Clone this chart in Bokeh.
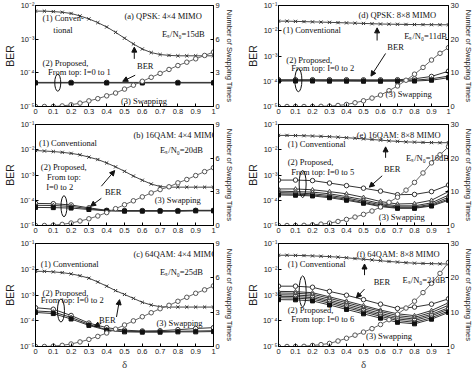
from bokeh.plotting import figure
from bokeh.models import Range1d, LinearAxis, LinearScale, FixedTicker, Label, Arrow, NormalHead
from bokeh.layouts import column, row
from bokeh.embed import file_html
from bokeh.resources import INLINE

# ---------------- data ----------------
delta = [0.0, 0.05, 0.1, 0.15, 0.2, 0.25, 0.3, 0.35, 0.4, 0.45, 0.5,
         0.55, 0.6, 0.65, 0.7, 0.75, 0.8, 0.85, 0.9, 0.95, 1.0]
delta_p = [0.0, 0.1, 0.2, 0.3, 0.4, 0.5, 0.6, 0.7, 0.8, 0.9, 1.0]
delta_pa = [0.0, 0.2, 0.4, 0.6, 0.8, 1.0]

x_ticks = [0.0, 0.1, 0.2, 0.3, 0.4, 0.5, 0.6, 0.7, 0.8, 0.9, 1.0]
x_tick_labels = ["0", "0.1", "0.2", "0.3", "0.4", "0.5", "0.6", "0.7", "0.8", "0.9", "1"]
ber_ticks = [1e-5, 1e-4, 1e-3, 1e-2, 1e-1]
ber_tick_labels = ["10⁻⁵", "10⁻⁴", "10⁻³", "10⁻²", "10⁻¹"]
swap_ticks_4 = [0, 3, 6, 9]
swap_ticks_8 = [0, 10, 20, 30]

# (a) QPSK 4x4
conv_a = [6.8e-3, 6.8e-3, 6.6e-3, 6.3e-3, 5.8e-3, 4.9e-3, 4.0e-3, 3.1e-3, 2.3e-3, 1.6e-3, 1.07e-3,
          7.2e-4, 5.1e-4, 4.0e-4, 3.5e-4, 3.3e-4, 3.2e-4, 3.2e-4, 3.2e-4, 3.2e-4, 3.2e-4]
prop_a = [[5.2e-5, 5.2e-5, 5.2e-5, 5.2e-5, 5.2e-5, 5.2e-5],
          [5.0e-5, 5.0e-5, 5.0e-5, 5.0e-5, 5.0e-5, 5.0e-5]]
swap_a = [0, 0, 0, 0.05, 0.15, 0.3, 0.5, 0.7, 0.95, 1.2, 1.55, 1.9, 2.25, 2.6, 2.95,
          3.3, 3.65, 3.95, 4.25, 4.55, 4.85]

# (b) 16QAM 4x4
conv_b = [9.3e-3, 8.9e-3, 8.5e-3, 7.9e-3, 7.2e-3, 6.3e-3, 5.1e-3, 4.1e-3, 3.0e-3, 2.1e-3, 1.4e-3,
          9.1e-4, 6.2e-4, 4.4e-4, 3.5e-4, 3.3e-4, 3.3e-4, 3.3e-4, 3.3e-4, 3.3e-4, 3.3e-4]
prop_b = [[7.5e-5, 7.3e-5, 6.5e-5, 5.0e-5, 4.0e-5, 3.9e-5, 3.9e-5, 3.9e-5, 3.9e-5, 4.0e-5, 4.0e-5],
          [6.3e-5, 6.2e-5, 5.7e-5, 4.6e-5, 3.9e-5, 3.8e-5, 3.8e-5, 3.8e-5, 3.8e-5, 3.9e-5, 3.9e-5],
          [5.2e-5, 5.1e-5, 4.9e-5, 4.3e-5, 3.8e-5, 3.7e-5, 3.7e-5, 3.7e-5, 3.7e-5, 3.8e-5, 3.8e-5]]
swap_b = [0, 0, 0.03, 0.1, 0.22, 0.4, 0.6, 0.85, 1.15, 1.5, 1.85, 2.2, 2.55, 2.9, 3.2,
          3.45, 3.8, 4.1, 4.45, 4.8, 5.15]

# (c) 64QAM 4x4
conv_c = [8.3e-3, 8.3e-3, 7.9e-3, 7.4e-3, 6.6e-3, 5.6e-3, 4.5e-3, 3.2e-3, 2.2e-3, 1.48e-3, 1.05e-3,
          7.4e-4, 5.2e-4, 4.1e-4, 3.5e-4, 3.4e-4, 3.4e-4, 3.4e-4, 3.4e-4, 3.4e-4, 3.4e-4]
prop_c = [[3.2e-4, 2.8e-4, 1.6e-4, 8.1e-5, 5.4e-5, 4.3e-5, 4.0e-5, 4.1e-5, 4.5e-5, 5.0e-5, 5.4e-5],
          [2.4e-4, 2.2e-4, 1.35e-4, 7.2e-5, 4.5e-5, 3.9e-5, 3.8e-5, 3.8e-5, 3.9e-5, 4.0e-5, 4.1e-5],
          [2.1e-4, 1.9e-4, 1.17e-4, 6.6e-5, 4.3e-5, 3.7e-5, 3.6e-5, 3.6e-5, 3.7e-5, 3.7e-5, 3.8e-5]]
swap_c = [0, 0, 0.03, 0.1, 0.22, 0.4, 0.62, 0.88, 1.18, 1.52, 1.88, 2.24, 2.6, 2.95, 3.3,
          3.6, 3.95, 4.3, 4.65, 4.95, 5.3]

# (d) QPSK 8x8
conv_d = [2.4e-2, 2.4e-2, 2.35e-2, 2.3e-2, 2.25e-2, 2.2e-2, 2.15e-2, 2.1e-2, 2.05e-2, 2.0e-2, 1.95e-2,
          1.9e-2, 1.85e-2, 1.82e-2, 1.8e-2, 1.78e-2, 1.76e-2, 1.75e-2, 1.74e-2, 1.73e-2, 1.72e-2]
prop_d = [[1.15e-4, 1.15e-4, 1.15e-4, 1.15e-4, 1.15e-4, 1.14e-4, 1.14e-4, 1.15e-4, 1.25e-4, 1.55e-4, 2.5e-4],
          [1.08e-4, 1.08e-4, 1.08e-4, 1.07e-4, 1.07e-4, 1.07e-4, 1.07e-4, 1.07e-4, 1.1e-4, 1.25e-4, 1.6e-4],
          [1.02e-4, 1.02e-4, 1.02e-4, 1.01e-4, 1.01e-4, 1.0e-4, 1.0e-4, 1.0e-4, 1.02e-4, 1.1e-4, 1.38e-4]]
swap_d = [0, 0, 0, 0, 0, 0.05, 0.1, 0.3, 0.6, 1.1, 1.7, 2.5, 3.4, 4.7, 6.1,
          7.8, 9.6, 11.6, 13.8, 15.8, 17.5]

# (e) 16QAM 8x8
conv_e = [3.7e-2, 3.7e-2, 3.65e-2, 3.6e-2, 3.5e-2, 3.4e-2, 3.3e-2, 3.15e-2, 3.0e-2, 2.85e-2, 2.7e-2,
          2.55e-2, 2.4e-2, 2.25e-2, 2.15e-2, 2.05e-2, 2.0e-2, 1.95e-2, 1.92e-2, 1.9e-2, 1.9e-2]
prop_e = [[6.3e-4, 6.3e-4, 6.0e-4, 4.8e-4, 3.8e-4, 3.0e-4, 2.3e-4, 1.66e-4, 1.7e-4, 2.2e-4, 4.0e-4],
          [2.8e-4, 2.8e-4, 2.6e-4, 2.2e-4, 1.8e-4, 1.3e-4, 8.9e-5, 7.1e-5, 7.4e-5, 1.0e-4, 2.2e-4],
          [2.3e-4, 2.2e-4, 2.1e-4, 1.8e-4, 1.4e-4, 1.05e-4, 7.4e-5, 6.0e-5, 6.0e-5, 7.9e-5, 1.6e-4],
          [2.0e-4, 1.95e-4, 1.8e-4, 1.55e-4, 1.23e-4, 9.1e-5, 6.6e-5, 5.4e-5, 5.4e-5, 6.9e-5, 1.32e-4],
          [1.78e-4, 1.74e-4, 1.62e-4, 1.38e-4, 1.1e-4, 8.1e-5, 6.0e-5, 5.0e-5, 5.0e-5, 6.3e-5, 1.12e-4],
          [1.62e-4, 1.58e-4, 1.48e-4, 1.26e-4, 1.0e-4, 7.6e-5, 5.6e-5, 4.8e-5, 4.8e-5, 5.9e-5, 1.0e-4]]
swap_e = [0, 0, 0, 0.05, 0.2, 0.4, 0.7, 1.2, 1.8, 2.5, 3.3, 4.3, 5.5, 6.9, 8.4,
          10.5, 12.8, 15.6, 18.6, 21.0, 23.4]

# (f) 64QAM 8x8
conv_f = [3.5e-2, 3.5e-2, 3.45e-2, 3.4e-2, 3.3e-2, 3.2e-2, 3.1e-2, 2.95e-2, 2.8e-2, 2.6e-2, 2.45e-2,
          2.3e-2, 2.15e-2, 2.0e-2, 1.9e-2, 1.8e-2, 1.72e-2, 1.68e-2, 1.65e-2, 1.62e-2, 1.6e-2]
prop_f = [[2.2e-3, 2.2e-3, 2.0e-3, 1.38e-3, 9.8e-4, 6.6e-4, 4.4e-4, 3.0e-4, 3.4e-4, 4.4e-4, 7.1e-4],
          [1.38e-3, 1.35e-3, 1.23e-3, 8.5e-4, 5.8e-4, 3.9e-4, 2.6e-4, 1.86e-4, 1.58e-4, 2.5e-4, 5.0e-4],
          [1.2e-3, 1.17e-3, 1.07e-3, 7.4e-4, 5.0e-4, 3.4e-4, 2.3e-4, 1.58e-4, 1.35e-4, 2.1e-4, 4.0e-4],
          [1.02e-3, 1.0e-3, 9.1e-4, 6.3e-4, 4.3e-4, 2.9e-4, 1.95e-4, 1.35e-4, 1.17e-4, 1.78e-4, 3.2e-4],
          [8.9e-4, 8.7e-4, 7.9e-4, 5.5e-4, 3.7e-4, 2.5e-4, 1.7e-4, 1.17e-4, 1.02e-4, 1.55e-4, 2.8e-4],
          [7.8e-4, 7.6e-4, 6.9e-4, 4.8e-4, 3.2e-4, 2.2e-4, 1.48e-4, 1.02e-4, 8.7e-5, 1.32e-4, 2.4e-4],
          [6.6e-4, 6.5e-4, 5.9e-4, 4.1e-4, 2.75e-4, 1.86e-4, 1.26e-4, 8.7e-5, 7.6e-5, 1.15e-4, 2.1e-4]]
swap_f = [0, 0, 0, 0.05, 0.3, 0.55, 0.9, 1.6, 2.4, 3.3, 4.2, 5.2, 6.4, 7.8, 9.4,
          11.2, 13.2, 15.7, 18.4, 21.3, 24.5]

SERIF = "Liberation Serif"
SANS = "Liberation Sans"
INK = "#222222"
MID_MARKERS = ["triangle", "diamond", "inverted_triangle", "square", "circle"]


def panel(conv, props, dprop, swap, ber_hi, sw_hi, sw_ticks, fw, fh, mb_top,
          mb_right, xlabel, texts, arrows, ellipse):
    p = figure(frame_width=fw, frame_height=fh, y_axis_type="log",
               x_range=Range1d(0, 1), y_range=Range1d(1e-5, ber_hi),
               output_backend="svg", toolbar_location=None,
               min_border_left=0, min_border_right=mb_right,
               min_border_top=mb_top, min_border_bottom=0,
               background_fill_color="white", border_fill_color="white")
    p.outline_line_color = "black"
    p.outline_line_width = 1
    p.xgrid.visible = False
    p.ygrid.visible = False
    p.extra_y_ranges = {"sw": Range1d(0, sw_hi)}
    p.extra_y_scales = {"sw": LinearScale()}

    yticks = [t for t in ber_ticks if t <= ber_hi * 1.001]
    p.yaxis.ticker = FixedTicker(ticks=yticks, minor_ticks=[])
    p.yaxis.major_label_overrides = {t: l for t, l in zip(ber_ticks, ber_tick_labels) if t in yticks}
    p.yaxis.axis_label = "BER"
    p.xaxis.ticker = FixedTicker(ticks=x_ticks, minor_ticks=[])
    p.xaxis.major_label_overrides = dict(zip(x_ticks, x_tick_labels))
    if xlabel:
        p.xaxis.axis_label = xlabel
        p.xaxis.axis_label_text_font = SERIF
        p.xaxis.axis_label_text_font_style = "normal"
        p.xaxis.axis_label_text_font_size = "11px"
        p.xaxis.axis_label_standoff = 1

    ax = LinearAxis(y_range_name="sw", ticker=FixedTicker(ticks=sw_ticks, minor_ticks=[]),
                    axis_label="Number of Swapping Times")
    p.add_layout(ax, "right")

    for a in [p.xaxis[0], p.yaxis[0], ax]:
        a.axis_line_color = "black"
        a.major_tick_in = 3
        a.major_tick_out = 0
        a.minor_tick_in = 0
        a.minor_tick_out = 0
        a.major_tick_line_color = "black"
        a.major_label_text_font = SANS
        a.major_label_text_font_size = "7.5px"
        a.major_label_text_color = INK
        a.major_label_standoff = 2
    p.yaxis[0].major_label_standoff = 1
    for a in [p.yaxis[0], ax]:
        a.axis_label_text_font = SANS
        a.axis_label_text_font_style = "normal"
        a.axis_label_text_color = INK
        a.axis_label_standoff = 2
    p.yaxis[0].axis_label_text_font_size = "10.5px"
    p.yaxis[0].axis_label_standoff = 1
    ax.axis_label_text_font_size = "7.5px"

    # (1) conventional
    p.line(delta, conv, line_color="#444444", line_width=1)
    p.scatter(delta, conv, marker="x", size=4.5, line_color="#333333", line_width=1)
    # (2) proposed
    n = len(props)
    for i, ys in enumerate(props):
        p.line(dprop, ys, line_color="#333333", line_width=1)
        if i == 0:
            p.scatter(dprop, ys, marker="circle", size=4.5, line_color="#333333",
                      fill_color="white", line_width=1)
        elif i == n - 1:
            p.scatter(dprop, ys, marker="square", size=4, line_color="#111111",
                      fill_color="#111111")
        else:
            p.scatter(dprop, ys, marker=MID_MARKERS[(i - 1) % len(MID_MARKERS)], size=4,
                      line_color="#444444", fill_color="white", line_width=1)
    # (3) swapping
    p.line(delta, swap, line_color="#666666", line_width=1, y_range_name="sw")
    p.scatter(delta, swap, marker="circle", size=4.5, line_color="#555555",
              fill_color="white", line_width=1, y_range_name="sw")

    for (tx, ty, t) in texts:
        p.add_layout(Label(x=tx, y=ty, text=t, text_font=SERIF, text_font_size="8.5px",
                           text_color="#111111", text_baseline="middle", text_align="left"))
    for (x0, y0, x1, y1) in arrows:
        p.add_layout(Arrow(x_start=x0, y_start=y0, x_end=x1, y_end=y1, line_width=1,
                           line_color="#111111",
                           end=NormalHead(size=5, fill_color="#111111", line_color="#111111")))
    ex, ey, ew, eh = ellipse
    p.ellipse(x=[ex], y=[ey], width=[ew], height=[eh], width_units="screen",
              height_units="screen", fill_alpha=0, line_color="#111111", line_width=1)
    return p


FW1, FW2 = 178, 170
FH1, FH2, FH3 = 101, 101, 103
TOP1, TOP2 = 5, 8
RB1 = 30

fa = panel(conv_a, prop_a, delta_pa, swap_a, 1e-2, 9, swap_ticks_4, FW1, FH1, TOP1, RB1, None,
           [(0.04, 4.2e-3, "(1) Conven-"), (0.10, 1.9e-3, "tional"),
            (0.50, 4.8e-3, "(a) QPSK: 4×4 MIMO"), (0.71, 1.45e-3, "Eₛ/N₀=15dB"),
            (0.04, 2.0e-4, "(2) Proposed,"), (0.07, 1.05e-4, "From top: I=0 to 1"),
            (0.57, 1.6e-4, "BER"), (0.48, 1.5e-5, "(3) Swapping")],
           [(0.555, 2.6e-4, 0.555, 5.8e-4), (0.56, 8.5e-5, 0.49, 5.6e-5)],
           (0.125, 5.1e-5, 6, 17))

fb = panel(conv_b, prop_b, delta_p, swap_b, 1e-1, 9, swap_ticks_4, FW1, FH2, TOP2, RB1, None,
           [(0.02, 1.85e-2, "(1) Conventional"), (0.55, 3.8e-2, "(b) 16QAM: 4×4 MIMO"),
            (0.70, 1.0e-2, "Eₛ/N₀=20dB"), (0.03, 2.0e-3, "(2) Proposed,"),
            (0.065, 8.1e-4, "From top:"), (0.06, 3.4e-4, "I=0 to 2"),
            (0.39, 2.2e-4, "BER"), (0.67, 1.0e-4, "(3) Swapping")],
           [(0.37, 3.6e-4, 0.445, 1.5e-3), (0.37, 1.2e-4, 0.31, 5.8e-5)],
           (0.16, 5.8e-5, 6, 21))

fc = panel(conv_c, prop_c, delta_p, swap_c, 1e-1, 9, swap_ticks_4, FW1, FH3, TOP2, RB1, "δ",
           [(0.03, 1.6e-2, "(1) Conventional"), (0.55, 3.8e-2, "(c) 64QAM: 4×4 MIMO"),
            (0.70, 7.9e-3, "Eₛ/N₀=25dB"), (0.04, 1.2e-3, "(2) Proposed,"),
            (0.03, 6.2e-4, "From top: I=0 to 2"), (0.357, 1.1e-4, "BER"),
            (0.68, 8.0e-5, "(3) Swapping")],
           [(0.455, 1.4e-4, 0.472, 6.6e-4), (0.37, 8.0e-5, 0.33, 6.0e-5)],
           (0.143, 2.5e-4, 7, 23))

fd = panel(conv_d, prop_d, delta_p, swap_d, 1e-1, 30, swap_ticks_8, FW2, FH1, TOP1, 0, None,
           [(0.027, 1.05e-2, "(1) Conventional"), (0.47, 4.4e-2, "(d) QPSK: 8×8 MIMO"),
            (0.74, 6.3e-3, "Eₛ/N₀=11dB"), (0.64, 2.2e-3, "BER"),
            (0.046, 6.9e-4, "(2) Proposed,"), (0.075, 3.3e-4, "From top: I=0 to 2"),
            (0.63, 3.1e-5, "(3) Swapping")],
           [(0.58, 4.1e-3, 0.58, 1.3e-2), (0.63, 1.26e-3, 0.544, 1.6e-4)],
           (0.117, 1.1e-4, 7, 23))

fe = panel(conv_e, prop_e, delta_p, swap_e, 1e-1, 30, swap_ticks_8, FW2, FH2, TOP2, 0, None,
           [(0.054, 1.7e-2, "(1) Conventional"), (0.46, 3.8e-2, "(e) 16QAM: 8×8 MIMO"),
            (0.75, 4.8e-3, "Eₛ/N₀=16dB"), (0.054, 3.2e-3, "(2) Proposed,"),
            (0.075, 1.3e-3, "From top: I=0 to 5"), (0.62, 1.66e-3, "BER"),
            (0.59, 2.1e-5, "(3) Swapping")],
           [(0.63, 4.8e-3, 0.63, 1.3e-2), (0.61, 9.3e-4, 0.534, 3.3e-4)],
           (0.142, 4.4e-4, 7, 27))

ff = panel(conv_f, prop_f, delta_p, swap_f, 1e-1, 30, swap_ticks_8, FW2, FH3, TOP2, 0, "δ",
           [(0.054, 1.6e-2, "(1) Conventional"), (0.46, 3.8e-2, "(f) 64QAM: 8×8 MIMO"),
            (0.73, 3.8e-3, "Eₛ/N₀=21dB"), (0.56, 3.3e-3, "BER"),
            (0.054, 2.6e-4, "(2) Proposed,"), (0.075, 1.17e-4, "From top: I=0 to 6"),
            (0.515, 2.5e-5, "(3) Swapping")],
           [(0.506, 5.9e-3, 0.506, 1.6e-2), (0.506, 1.7e-3, 0.458, 7.8e-4)],
           (0.142, 1.38e-3, 7, 31))

layout = column(row(fa, fd), row(fb, fe), row(fc, ff))
open("out.html", "w").write(file_html(layout, INLINE))
